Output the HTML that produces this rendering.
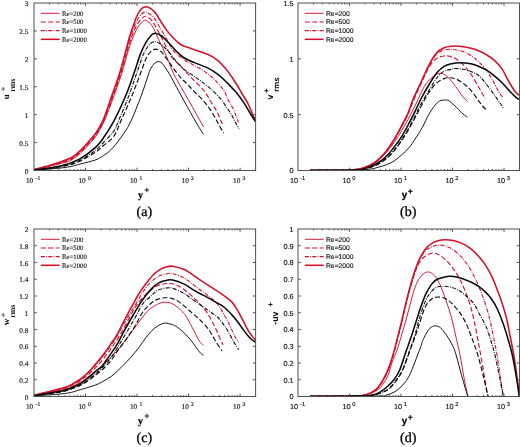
<!DOCTYPE html>
<html><head><meta charset="utf-8"><title>figure</title>
<style>html,body{margin:0;padding:0;background:#fff}svg{display:block}</style></head>
<body>
<svg width="520" height="447" viewBox="0 0 520 447" text-rendering="geometricPrecision">
<rect width="520" height="447" fill="#fff"/>
<g>
<clipPath id="cla"><rect x="34.0" y="2.0" width="222.4" height="169.0"/></clipPath>
<g clip-path="url(#cla)" fill="none" stroke-linejoin="round">
<path d="M34.00 169.80C36.57 169.20 44.25 167.42 49.40 166.20C54.55 164.98 61.03 163.65 64.90 162.50C68.77 161.35 70.03 160.83 72.60 159.30C75.17 157.77 77.73 155.62 80.30 153.30C82.87 150.98 85.42 148.23 88.00 145.40C90.58 142.57 93.33 139.85 95.80 136.30C98.27 132.75 100.70 128.38 102.80 124.10C104.90 119.82 106.57 115.23 108.40 110.60C110.23 105.97 111.57 102.53 113.80 96.30C116.03 90.07 119.47 80.58 121.80 73.20C124.13 65.82 126.13 57.48 127.80 52.00C129.47 46.52 130.47 43.80 131.80 40.30C133.13 36.80 134.65 33.38 135.80 31.00C136.95 28.62 137.63 27.50 138.70 26.00C139.77 24.50 141.02 22.95 142.20 22.00C143.38 21.05 144.23 19.80 145.80 20.30C147.37 20.80 150.05 23.15 151.60 25.00C153.15 26.85 153.93 28.98 155.10 31.40C156.27 33.82 157.45 36.98 158.60 39.50C159.75 42.02 160.67 43.65 162.00 46.50C163.33 49.35 164.87 52.58 166.60 56.60C168.33 60.62 171.13 67.53 172.40 70.60C173.67 73.67 172.72 72.18 174.20 75.00C175.68 77.82 178.92 83.33 181.30 87.50C183.68 91.67 186.05 95.67 188.50 100.00C190.95 104.33 193.50 109.00 196.00 113.50C198.50 118.00 202.25 124.75 203.50 127.00" stroke="#d31029" stroke-width="0.95"/>
<path d="M34.00 169.70C36.57 169.08 44.25 167.32 49.40 166.00C54.55 164.68 61.03 163.05 64.90 161.80C68.77 160.55 70.03 160.07 72.60 158.50C75.17 156.93 77.73 154.75 80.30 152.40C82.87 150.05 85.42 147.27 88.00 144.40C90.58 141.53 93.33 138.77 95.80 135.20C98.27 131.63 100.78 127.13 102.80 123.00C104.82 118.87 106.20 114.85 107.90 110.40C109.60 105.95 110.82 102.50 113.00 96.30C115.18 90.10 118.67 80.67 121.00 73.20C123.33 65.73 125.33 57.23 127.00 51.50C128.67 45.77 129.67 42.63 131.00 38.80C132.33 34.97 133.83 31.13 135.00 28.50C136.17 25.87 136.83 24.72 138.00 23.00C139.17 21.28 140.70 19.32 142.00 18.20C143.30 17.08 144.12 15.85 145.80 16.30C147.48 16.75 150.08 18.48 152.10 20.90C154.12 23.32 155.95 27.30 157.90 30.80C159.85 34.30 162.05 38.50 163.80 41.90C165.55 45.30 166.95 48.52 168.40 51.20C169.85 53.88 171.07 56.10 172.50 58.00C173.93 59.90 175.27 60.83 177.00 62.60C178.73 64.37 180.17 65.72 182.90 68.60C185.63 71.48 189.97 76.33 193.40 79.90C196.83 83.47 200.68 86.52 203.50 90.00C206.32 93.48 208.07 97.22 210.30 100.80C212.53 104.38 215.12 108.13 216.90 111.50C218.68 114.87 219.98 118.63 221.00 121.00C222.02 123.37 222.67 124.92 223.00 125.70" stroke="#d31029" stroke-width="1.15" stroke-dasharray="5 2.4"/>
<path d="M34.00 169.60C36.57 168.97 44.25 167.23 49.40 165.80C54.55 164.37 61.03 162.35 64.90 161.00C68.77 159.65 70.03 159.28 72.60 157.70C75.17 156.12 77.73 153.88 80.30 151.50C82.87 149.12 85.42 146.28 88.00 143.40C90.58 140.52 93.33 137.78 95.80 134.20C98.27 130.62 100.87 125.90 102.80 121.90C104.73 117.90 105.82 114.47 107.40 110.20C108.98 105.93 110.15 102.47 112.30 96.30C114.45 90.13 117.97 80.67 120.30 73.20C122.63 65.73 124.63 57.45 126.30 51.50C127.97 45.55 128.97 41.67 130.30 37.50C131.63 33.33 133.12 29.45 134.30 26.50C135.48 23.55 136.20 21.85 137.40 19.80C138.60 17.75 140.10 15.47 141.50 14.20C142.90 12.93 143.95 11.85 145.80 12.20C147.65 12.55 150.50 14.17 152.60 16.30C154.70 18.43 156.45 21.90 158.40 25.00C160.35 28.10 162.55 31.90 164.30 34.90C166.05 37.90 167.62 40.65 168.90 43.00C170.18 45.35 170.48 47.00 172.00 49.00C173.52 51.00 175.83 53.12 178.00 55.00C180.17 56.88 183.00 58.93 185.00 60.30C187.00 61.67 188.22 62.22 190.00 63.20C191.78 64.18 193.40 64.90 195.70 66.20C198.00 67.50 201.28 69.32 203.80 71.00C206.32 72.68 208.93 74.80 210.80 76.30C212.67 77.80 212.87 77.72 215.00 80.00C217.13 82.28 221.43 86.77 223.60 90.00C225.77 93.23 226.42 96.27 228.00 99.40C229.58 102.53 231.70 105.88 233.10 108.80C234.50 111.72 235.50 114.65 236.40 116.90C237.30 119.15 238.15 121.40 238.50 122.30" stroke="#d31029" stroke-width="1.10" stroke-dasharray="4 1.3 0.9 1.3"/>
<path d="M34.00 169.50C36.57 168.85 44.25 167.15 49.40 165.60C54.55 164.05 61.03 161.67 64.90 160.20C68.77 158.73 70.03 158.40 72.60 156.80C75.17 155.20 77.73 153.00 80.30 150.60C82.87 148.20 85.42 145.30 88.00 142.40C90.58 139.50 93.33 136.80 95.80 133.20C98.27 129.60 100.95 124.67 102.80 120.80C104.65 116.93 105.43 114.08 106.90 110.00C108.37 105.92 109.48 102.43 111.60 96.30C113.72 90.17 117.27 80.67 119.60 73.20C121.93 65.73 123.93 57.62 125.60 51.50C127.27 45.38 128.27 40.92 129.60 36.50C130.93 32.08 132.47 28.25 133.60 25.00C134.73 21.75 135.17 19.62 136.40 17.00C137.63 14.38 139.42 11.00 141.00 9.30C142.58 7.60 144.32 6.95 145.90 6.80C147.48 6.65 149.07 7.55 150.50 8.40C151.93 9.25 153.35 10.67 154.50 11.90C155.65 13.13 156.35 14.20 157.40 15.80C158.45 17.40 159.27 19.12 160.80 21.50C162.33 23.88 164.67 27.50 166.60 30.10C168.53 32.70 170.77 35.28 172.40 37.10C174.03 38.92 174.80 39.63 176.40 41.00C178.00 42.37 179.75 44.12 182.00 45.30C184.25 46.48 187.57 47.28 189.90 48.10C192.23 48.92 193.05 49.17 196.00 50.20C198.95 51.23 204.12 52.70 207.60 54.30C211.08 55.90 213.98 57.53 216.90 59.80C219.82 62.07 222.58 65.00 225.10 67.90C227.62 70.80 229.87 74.10 232.00 77.20C234.13 80.30 236.43 84.08 237.90 86.50C239.37 88.92 239.13 88.87 240.80 91.70C242.47 94.53 245.93 99.75 247.90 103.50C249.87 107.25 251.33 111.40 252.60 114.20C253.87 117.00 255.02 119.28 255.50 120.30" stroke="#d31029" stroke-width="1.55"/>
<path d="M34.00 170.30C39.15 169.83 57.18 168.55 64.90 167.50C72.62 166.45 75.15 165.28 80.30 164.00C85.45 162.72 91.93 161.22 95.80 159.80C99.67 158.38 100.98 157.17 103.50 155.50C106.02 153.83 108.07 152.70 110.90 149.80C113.73 146.90 117.28 142.62 120.50 138.10C123.72 133.58 126.78 129.67 130.20 122.70C133.62 115.73 138.15 103.75 141.00 96.30C143.85 88.85 145.80 82.38 147.30 78.00C148.80 73.62 148.92 72.30 150.00 70.00C151.08 67.70 152.43 65.60 153.80 64.20C155.17 62.80 156.83 61.77 158.20 61.60C159.57 61.43 160.97 62.42 162.00 63.20C163.03 63.98 163.60 65.17 164.40 66.30C165.20 67.43 165.87 68.55 166.80 70.00C167.73 71.45 168.35 72.08 170.00 75.00C171.65 77.92 174.45 83.33 176.70 87.50C178.95 91.67 181.20 95.83 183.50 100.00C185.80 104.17 188.25 108.50 190.50 112.50C192.75 116.50 194.83 120.35 197.00 124.00C199.17 127.65 202.42 132.67 203.50 134.40" stroke="#0a0a0a" stroke-width="0.95"/>
<path d="M34.00 170.20C39.15 169.50 57.18 167.53 64.90 166.00C72.62 164.47 75.15 163.33 80.30 161.00C85.45 158.67 91.93 154.58 95.80 152.00C99.67 149.42 100.47 148.17 103.50 145.50C106.53 142.83 110.97 140.42 114.00 136.00C117.03 131.58 118.75 125.62 121.70 119.00C124.65 112.38 128.37 104.47 131.70 96.30C135.03 88.13 139.25 76.43 141.70 70.00C144.15 63.57 144.83 60.80 146.40 57.70C147.97 54.60 149.53 52.83 151.10 51.40C152.67 49.97 154.10 49.03 155.80 49.10C157.50 49.17 159.88 50.73 161.30 51.80C162.72 52.87 162.83 53.53 164.30 55.50C165.77 57.47 168.17 60.90 170.10 63.60C172.03 66.30 173.97 69.18 175.90 71.70C177.83 74.22 179.75 76.57 181.70 78.70C183.65 80.83 185.55 82.40 187.60 84.50C189.65 86.60 191.35 88.58 194.00 91.30C196.65 94.02 200.58 97.43 203.50 100.80C206.42 104.17 209.03 107.70 211.50 111.50C213.97 115.30 216.28 120.00 218.30 123.60C220.32 127.20 222.72 131.52 223.60 133.10" stroke="#0a0a0a" stroke-width="1.15" stroke-dasharray="5 2.4"/>
<path d="M34.00 170.10C39.15 169.33 57.18 167.18 64.90 165.50C72.62 163.82 75.15 162.58 80.30 160.00C85.45 157.42 91.93 152.92 95.80 150.00C99.67 147.08 100.47 145.72 103.50 142.50C106.53 139.28 111.37 134.62 114.00 130.70C116.63 126.78 116.87 124.73 119.30 119.00C121.73 113.27 125.52 104.47 128.60 96.30C131.68 88.13 135.35 76.95 137.80 70.00C140.25 63.05 141.60 58.57 143.30 54.60C145.00 50.63 146.55 48.20 148.00 46.20C149.45 44.20 150.70 43.35 152.00 42.60C153.30 41.85 154.32 41.43 155.80 41.70C157.28 41.97 159.37 43.15 160.90 44.20C162.43 45.25 163.73 46.78 165.00 48.00C166.27 49.22 167.27 50.07 168.50 51.50C169.73 52.93 170.77 54.58 172.40 56.60C174.03 58.62 176.35 61.47 178.30 63.60C180.25 65.73 182.00 67.65 184.10 69.40C186.20 71.15 188.80 72.65 190.90 74.10C193.00 75.55 194.93 76.85 196.70 78.10C198.47 79.35 199.73 80.28 201.50 81.60C203.27 82.92 205.13 84.22 207.30 86.00C209.47 87.78 212.13 89.97 214.50 92.30C216.87 94.63 219.33 97.30 221.50 100.00C223.67 102.70 225.80 106.00 227.50 108.50C229.20 111.00 230.37 112.67 231.70 115.00C233.03 117.33 234.27 120.17 235.50 122.50C236.73 124.83 238.50 127.92 239.10 129.00" stroke="#0a0a0a" stroke-width="1.10" stroke-dasharray="4 1.3 0.9 1.3"/>
<path d="M34.00 170.00C36.57 169.67 44.25 168.87 49.40 168.00C54.55 167.13 59.75 166.37 64.90 164.80C70.05 163.23 75.15 161.55 80.30 158.60C85.45 155.65 91.93 150.57 95.80 147.10C99.67 143.63 100.47 142.18 103.50 137.80C106.53 133.42 110.33 127.72 114.00 120.80C117.67 113.88 121.98 104.77 125.50 96.30C129.02 87.83 132.65 76.95 135.10 70.00C137.55 63.05 138.43 59.13 140.20 54.60C141.97 50.07 143.82 46.07 145.70 42.80C147.58 39.53 149.90 36.60 151.50 35.00C153.10 33.40 153.60 33.03 155.30 33.20C157.00 33.37 159.78 34.70 161.70 36.00C163.62 37.30 165.27 39.47 166.80 41.00C168.33 42.53 169.25 43.45 170.90 45.20C172.55 46.95 174.70 49.53 176.70 51.50C178.70 53.47 180.70 55.47 182.90 57.00C185.10 58.53 187.57 59.60 189.90 60.70C192.23 61.80 193.95 62.40 196.90 63.60C199.85 64.80 204.27 66.22 207.60 67.90C210.93 69.58 213.98 71.57 216.90 73.70C219.82 75.83 222.58 78.33 225.10 80.70C227.62 83.07 230.17 85.97 232.00 87.90C233.83 89.83 234.13 89.85 236.10 92.30C238.07 94.75 241.38 98.98 243.80 102.60C246.22 106.22 248.65 110.83 250.60 114.00C252.55 117.17 254.68 120.33 255.50 121.60" stroke="#0a0a0a" stroke-width="1.55"/>
</g>
<g stroke="#505050" stroke-width="1" fill="none">
<rect x="34.0" y="3.0" width="221.6" height="167.5"/>
<path d="M49.51 170.50v-1.40M49.51 3.00v1.40M58.58 170.50v-1.40M58.58 3.00v1.40M65.02 170.50v-1.40M65.02 3.00v1.40M70.01 170.50v-1.40M70.01 3.00v1.40M74.09 170.50v-1.40M74.09 3.00v1.40M77.54 170.50v-1.40M77.54 3.00v1.40M80.53 170.50v-1.40M80.53 3.00v1.40M83.17 170.50v-1.40M83.17 3.00v1.40M85.52 170.50v-2.80M85.52 3.00v2.80M101.03 170.50v-1.40M101.03 3.00v1.40M110.11 170.50v-1.40M110.11 3.00v1.40M116.54 170.50v-1.40M116.54 3.00v1.40M121.54 170.50v-1.40M121.54 3.00v1.40M125.61 170.50v-1.40M125.61 3.00v1.40M129.06 170.50v-1.40M129.06 3.00v1.40M132.05 170.50v-1.40M132.05 3.00v1.40M134.69 170.50v-1.40M134.69 3.00v1.40M137.05 170.50v-2.80M137.05 3.00v2.80M152.55 170.50v-1.40M152.55 3.00v1.40M161.63 170.50v-1.40M161.63 3.00v1.40M168.06 170.50v-1.40M168.06 3.00v1.40M173.06 170.50v-1.40M173.06 3.00v1.40M177.14 170.50v-1.40M177.14 3.00v1.40M180.59 170.50v-1.40M180.59 3.00v1.40M183.57 170.50v-1.40M183.57 3.00v1.40M186.21 170.50v-1.40M186.21 3.00v1.40M188.57 170.50v-2.80M188.57 3.00v2.80M204.08 170.50v-1.40M204.08 3.00v1.40M213.15 170.50v-1.40M213.15 3.00v1.40M219.59 170.50v-1.40M219.59 3.00v1.40M224.58 170.50v-1.40M224.58 3.00v1.40M228.66 170.50v-1.40M228.66 3.00v1.40M232.11 170.50v-1.40M232.11 3.00v1.40M235.10 170.50v-1.40M235.10 3.00v1.40M237.73 170.50v-1.40M237.73 3.00v1.40M240.09 170.50v-2.80M240.09 3.00v2.80M255.60 170.50v-1.40M255.60 3.00v1.40M34.00 142.58h2.8M255.60 142.58h-2.8M34.00 114.67h2.8M255.60 114.67h-2.8M34.00 86.75h2.8M255.60 86.75h-2.8M34.00 58.83h2.8M255.60 58.83h-2.8M34.00 30.92h2.8M255.60 30.92h-2.8"/>
</g>
<g font-family='"Liberation Serif", serif' font-size="7.3" fill="#111" stroke="#111" stroke-width="0.15">
<text x="28.4" y="173.5" text-anchor="end">0</text>
<text x="28.4" y="145.6" text-anchor="end">0.5</text>
<text x="28.4" y="117.7" text-anchor="end">1</text>
<text x="28.4" y="89.8" text-anchor="end">1.5</text>
<text x="28.4" y="61.8" text-anchor="end">2</text>
<text x="28.4" y="33.9" text-anchor="end">2.5</text>
<text x="28.4" y="6.0" text-anchor="end">3</text>
<text x="33.2" y="183.3" text-anchor="end">10</text>
<text x="35.6" y="180.0" font-size="5.7">-1</text>
<text x="85.7" y="183.3" text-anchor="end">10</text>
<text x="88.0" y="180.0" font-size="5.7">0</text>
<text x="137.2" y="183.3" text-anchor="end">10</text>
<text x="139.5" y="180.0" font-size="5.7">1</text>
<text x="188.8" y="183.3" text-anchor="end">10</text>
<text x="191.1" y="180.0" font-size="5.7">2</text>
<text x="240.3" y="183.3" text-anchor="end">10</text>
<text x="242.6" y="180.0" font-size="5.7">3</text>
</g>
<text x="138.0" y="197.7" font-family='"Liberation Serif", serif' font-size="10" font-weight="bold" fill="#000" stroke="#000" stroke-width="0.2">y</text>
<text x="144.2" y="193.1" font-family='"Liberation Serif", serif' font-size="9" font-weight="bold" fill="#000" stroke="#000" stroke-width="0.2">+</text>
<text x="144.3" y="215.7" font-family='"Liberation Serif", serif' font-size="14" fill="#000" stroke="#000" stroke-width="0.3" text-anchor="middle">(a)</text>
<g transform="translate(9.4 86.8) rotate(-90)" font-family='"Liberation Serif", serif' font-weight="bold" fill="#000">
<text x="-12.4" y="0" font-size="9.0">u</text>
<text x="-4.9" y="5.6" font-size="7.8">rms</text>
<text x="-4.6" y="-3.9" font-size="8.6">+</text>
</g>
<path d="M40.8 13.3H59.6" stroke="#d31029" stroke-width="0.95" fill="none"/>
<text x="62.0" y="15.6" font-family='"Liberation Serif", serif' font-size="6.75" fill="#111" stroke="#111" stroke-width="0.12">Re=200</text>
<path d="M40.8 22.0H59.6" stroke="#d31029" stroke-width="1.15" stroke-dasharray="5 2.4" fill="none"/>
<text x="62.0" y="24.3" font-family='"Liberation Serif", serif' font-size="6.75" fill="#111" stroke="#111" stroke-width="0.12">Re=500</text>
<path d="M40.8 30.6H59.6" stroke="#d31029" stroke-width="1.10" stroke-dasharray="4 1.3 0.9 1.3" fill="none"/>
<text x="62.0" y="32.9" font-family='"Liberation Serif", serif' font-size="6.75" fill="#111" stroke="#111" stroke-width="0.12">Re=1000</text>
<path d="M40.8 39.3H59.6" stroke="#d31029" stroke-width="1.55" fill="none"/>
<text x="62.0" y="41.6" font-family='"Liberation Serif", serif' font-size="6.75" fill="#111" stroke="#111" stroke-width="0.12">Re=2000</text>
</g>
<g>
<clipPath id="clb"><rect x="298.0" y="2.0" width="222.3" height="169.0"/></clipPath>
<g clip-path="url(#clb)" fill="none" stroke-linejoin="round">
<path d="M310.00 170.40C315.00 170.38 332.43 170.38 340.00 170.25C347.57 170.12 351.53 169.96 355.40 169.60C359.27 169.24 360.62 168.83 363.20 168.10C365.78 167.37 368.33 166.55 370.90 165.20C373.47 163.85 376.03 162.12 378.60 160.00C381.17 157.88 383.72 155.42 386.30 152.50C388.88 149.58 391.52 146.17 394.10 142.50C396.68 138.83 399.48 134.33 401.80 130.50C404.12 126.67 405.80 123.58 408.00 119.50C410.20 115.42 413.00 110.08 415.00 106.00C417.00 101.92 418.18 98.68 420.00 95.00C421.82 91.32 423.63 87.03 425.90 83.90C428.17 80.77 431.28 77.95 433.60 76.20C435.92 74.45 437.73 73.53 439.80 73.40C441.87 73.27 443.68 73.65 446.00 75.40C448.32 77.15 451.13 80.68 453.70 83.90C456.27 87.12 459.10 91.73 461.40 94.70C463.70 97.67 466.48 100.53 467.50 101.70" stroke="#d31029" stroke-width="0.95"/>
<path d="M310.00 170.40C315.00 170.37 332.43 170.35 340.00 170.20C347.57 170.05 351.53 169.87 355.40 169.50C359.27 169.13 360.62 168.73 363.20 168.00C365.78 167.27 368.33 166.45 370.90 165.10C373.47 163.75 376.03 162.15 378.60 159.90C381.17 157.65 383.72 154.88 386.30 151.60C388.88 148.32 391.52 144.38 394.10 140.20C396.68 136.02 399.48 130.78 401.80 126.50C404.12 122.22 406.10 118.75 408.00 114.50C409.90 110.25 411.05 106.08 413.20 101.00C415.35 95.92 418.33 89.50 420.90 84.00C423.47 78.50 426.03 72.23 428.60 68.00C431.17 63.77 433.73 60.60 436.30 58.60C438.87 56.60 442.10 56.45 444.00 56.00C445.90 55.55 446.40 55.73 447.70 55.90C449.00 56.07 450.52 56.55 451.80 57.00C453.08 57.45 453.50 57.32 455.40 58.60C457.30 59.88 460.62 62.13 463.20 64.70C465.78 67.27 468.33 70.28 470.90 74.00C473.47 77.72 476.67 83.67 478.60 87.00C480.53 90.33 481.30 92.07 482.50 94.00C483.70 95.93 485.25 97.83 485.80 98.60" stroke="#d31029" stroke-width="1.15" stroke-dasharray="5 2.4"/>
<path d="M310.00 170.40C315.00 170.37 332.43 170.35 340.00 170.20C347.57 170.05 351.53 169.87 355.40 169.50C359.27 169.13 360.62 168.75 363.20 168.00C365.78 167.25 368.33 166.38 370.90 165.00C373.47 163.62 376.03 161.98 378.60 159.70C381.17 157.42 383.72 154.62 386.30 151.30C388.88 147.98 391.52 144.02 394.10 139.80C396.68 135.58 399.48 130.33 401.80 126.00C404.12 121.67 406.10 118.13 408.00 113.80C409.90 109.47 411.05 105.10 413.20 100.00C415.35 94.90 418.33 88.78 420.90 83.20C423.47 77.62 426.03 71.25 428.60 66.50C431.17 61.75 433.73 57.45 436.30 54.70C438.87 51.95 441.42 50.90 444.00 50.00C446.58 49.10 449.90 49.33 451.80 49.30C453.70 49.27 453.50 49.42 455.40 49.80C457.30 50.18 460.62 50.65 463.20 51.60C465.78 52.55 468.33 53.82 470.90 55.50C473.47 57.18 476.03 59.25 478.60 61.70C481.17 64.15 483.98 67.15 486.30 70.20C488.62 73.25 490.43 76.43 492.50 80.00C494.57 83.57 496.98 88.68 498.70 91.60C500.42 94.52 502.12 96.52 502.80 97.50" stroke="#d31029" stroke-width="1.10" stroke-dasharray="4 1.3 0.9 1.3"/>
<path d="M310.00 170.40C315.00 170.37 332.43 170.35 340.00 170.20C347.57 170.05 351.53 169.88 355.40 169.50C359.27 169.12 360.62 168.68 363.20 167.90C365.78 167.12 368.33 166.22 370.90 164.80C373.47 163.38 376.03 161.72 378.60 159.40C381.17 157.08 383.72 154.25 386.30 150.90C388.88 147.55 391.52 143.55 394.10 139.30C396.68 135.05 399.48 129.77 401.80 125.40C404.12 121.03 406.10 117.50 408.00 113.10C409.90 108.70 411.05 104.10 413.20 99.00C415.35 93.90 418.33 88.08 420.90 82.50C423.47 76.92 426.03 70.38 428.60 65.50C431.17 60.62 433.72 56.15 436.30 53.20C438.88 50.25 441.52 48.97 444.10 47.80C446.68 46.63 449.23 46.47 451.80 46.20C454.37 45.93 456.32 45.87 459.50 46.20C462.68 46.53 467.72 47.43 470.90 48.20C474.08 48.97 476.03 49.72 478.60 50.80C481.17 51.88 483.72 53.15 486.30 54.70C488.88 56.25 491.52 57.78 494.10 60.10C496.68 62.42 499.40 65.12 501.80 68.60C504.20 72.08 506.35 77.27 508.50 81.00C510.65 84.73 512.95 88.63 514.70 91.00C516.45 93.37 518.28 94.50 519.00 95.20" stroke="#d31029" stroke-width="1.55"/>
<path d="M310.00 170.45C317.57 170.42 345.25 170.54 355.40 170.30C365.55 170.06 367.03 169.53 370.90 169.00C374.77 168.47 376.03 167.80 378.60 167.10C381.17 166.40 383.72 165.82 386.30 164.80C388.88 163.78 391.52 162.67 394.10 161.00C396.68 159.33 399.23 157.12 401.80 154.80C404.37 152.48 407.28 149.73 409.50 147.10C411.72 144.47 412.93 142.33 415.10 139.00C417.27 135.67 420.25 131.13 422.50 127.10C424.75 123.07 426.55 118.40 428.60 114.80C430.65 111.20 432.93 107.82 434.80 105.50C436.67 103.18 438.20 101.80 439.80 100.90C441.40 100.00 442.85 100.10 444.40 100.10C445.95 100.10 447.03 99.62 449.10 100.90C451.17 102.18 454.48 105.62 456.80 107.80C459.12 109.98 461.22 112.45 463.00 114.00C464.78 115.55 466.75 116.58 467.50 117.10" stroke="#0a0a0a" stroke-width="0.95"/>
<path d="M310.00 170.40C317.57 170.35 346.53 170.27 355.40 170.10C364.27 169.93 360.62 169.88 363.20 169.40C365.78 168.92 368.33 168.10 370.90 167.20C373.47 166.30 376.03 165.40 378.60 164.00C381.17 162.60 383.72 160.97 386.30 158.80C388.88 156.63 391.52 154.05 394.10 151.00C396.68 147.95 399.23 144.33 401.80 140.50C404.37 136.67 407.18 132.00 409.50 128.00C411.82 124.00 413.78 120.08 415.70 116.50C417.62 112.92 418.85 110.42 421.00 106.50C423.15 102.58 426.05 96.88 428.60 93.00C431.15 89.12 433.72 85.60 436.30 83.20C438.88 80.80 441.98 79.52 444.10 78.60C446.22 77.68 447.12 77.68 449.00 77.70C450.88 77.72 453.03 77.77 455.40 78.70C457.77 79.63 460.62 81.37 463.20 83.30C465.78 85.23 468.33 87.37 470.90 90.30C473.47 93.23 476.58 98.20 478.60 100.90C480.62 103.60 481.77 105.08 483.00 106.50C484.23 107.92 485.50 108.92 486.00 109.40" stroke="#0a0a0a" stroke-width="1.15" stroke-dasharray="5 2.4"/>
<path d="M310.00 170.40C317.57 170.35 346.53 170.28 355.40 170.10C364.27 169.92 360.62 169.82 363.20 169.30C365.78 168.78 368.33 167.97 370.90 167.00C373.47 166.03 376.03 165.00 378.60 163.50C381.17 162.00 383.72 160.25 386.30 158.00C388.88 155.75 391.52 153.08 394.10 150.00C396.68 146.92 399.23 143.42 401.80 139.50C404.37 135.58 407.18 130.67 409.50 126.50C411.82 122.33 413.78 118.25 415.70 114.50C417.62 110.75 418.65 108.25 421.00 104.00C423.35 99.75 427.05 93.50 429.80 89.00C432.55 84.50 435.12 79.97 437.50 77.00C439.88 74.03 441.72 72.48 444.10 71.20C446.48 69.92 449.92 69.75 451.80 69.30C453.68 68.85 453.50 68.50 455.40 68.50C457.30 68.50 460.62 68.82 463.20 69.30C465.78 69.78 468.33 70.37 470.90 71.40C473.47 72.43 476.17 73.57 478.60 75.50C481.03 77.43 483.05 80.00 485.50 83.00C487.95 86.00 490.85 90.13 493.30 93.50C495.75 96.87 498.53 100.82 500.20 103.20C501.87 105.58 502.78 107.03 503.30 107.80" stroke="#0a0a0a" stroke-width="1.10" stroke-dasharray="4 1.3 0.9 1.3"/>
<path d="M310.00 170.40C317.57 170.33 346.53 170.23 355.40 170.00C364.27 169.77 360.62 169.60 363.20 169.00C365.78 168.40 368.33 167.48 370.90 166.40C373.47 165.32 376.03 164.18 378.60 162.50C381.17 160.82 383.72 158.87 386.30 156.30C388.88 153.73 391.52 150.43 394.10 147.10C396.68 143.77 399.23 140.42 401.80 136.30C404.37 132.18 407.18 126.78 409.50 122.40C411.82 118.02 413.80 113.90 415.70 110.00C417.60 106.10 418.62 103.33 420.90 99.00C423.18 94.67 426.70 88.42 429.40 84.00C432.10 79.58 434.65 75.45 437.10 72.50C439.55 69.55 441.65 67.77 444.10 66.30C446.55 64.83 449.23 64.30 451.80 63.70C454.37 63.10 456.32 62.70 459.50 62.70C462.68 62.70 467.72 63.10 470.90 63.70C474.08 64.30 476.03 65.28 478.60 66.30C481.17 67.32 483.72 68.25 486.30 69.80C488.88 71.35 491.52 73.48 494.10 75.60C496.68 77.72 499.23 79.93 501.80 82.50C504.37 85.07 507.18 88.57 509.50 91.00C511.82 93.43 514.12 95.72 515.70 97.10C517.28 98.48 518.45 98.93 519.00 99.30" stroke="#0a0a0a" stroke-width="1.55"/>
</g>
<g stroke="#505050" stroke-width="1" fill="none">
<rect x="298.0" y="3.0" width="221.5" height="167.5"/>
<path d="M313.50 170.50v-1.40M313.50 3.00v1.40M322.57 170.50v-1.40M322.57 3.00v1.40M329.01 170.50v-1.40M329.01 3.00v1.40M334.00 170.50v-1.40M334.00 3.00v1.40M338.07 170.50v-1.40M338.07 3.00v1.40M341.52 170.50v-1.40M341.52 3.00v1.40M344.51 170.50v-1.40M344.51 3.00v1.40M347.14 170.50v-1.40M347.14 3.00v1.40M349.50 170.50v-2.80M349.50 3.00v2.80M365.00 170.50v-1.40M365.00 3.00v1.40M374.07 170.50v-1.40M374.07 3.00v1.40M380.50 170.50v-1.40M380.50 3.00v1.40M385.50 170.50v-1.40M385.50 3.00v1.40M389.57 170.50v-1.40M389.57 3.00v1.40M393.02 170.50v-1.40M393.02 3.00v1.40M396.01 170.50v-1.40M396.01 3.00v1.40M398.64 170.50v-1.40M398.64 3.00v1.40M401.00 170.50v-2.80M401.00 3.00v2.80M416.50 170.50v-1.40M416.50 3.00v1.40M425.57 170.50v-1.40M425.57 3.00v1.40M432.00 170.50v-1.40M432.00 3.00v1.40M437.00 170.50v-1.40M437.00 3.00v1.40M441.07 170.50v-1.40M441.07 3.00v1.40M444.52 170.50v-1.40M444.52 3.00v1.40M447.51 170.50v-1.40M447.51 3.00v1.40M450.14 170.50v-1.40M450.14 3.00v1.40M452.50 170.50v-2.80M452.50 3.00v2.80M468.00 170.50v-1.40M468.00 3.00v1.40M477.07 170.50v-1.40M477.07 3.00v1.40M483.50 170.50v-1.40M483.50 3.00v1.40M488.49 170.50v-1.40M488.49 3.00v1.40M492.57 170.50v-1.40M492.57 3.00v1.40M496.02 170.50v-1.40M496.02 3.00v1.40M499.01 170.50v-1.40M499.01 3.00v1.40M501.64 170.50v-1.40M501.64 3.00v1.40M504.00 170.50v-2.80M504.00 3.00v2.80M519.50 170.50v-1.40M519.50 3.00v1.40M298.00 114.67h2.8M519.50 114.67h-2.8M298.00 58.83h2.8M519.50 58.83h-2.8"/>
</g>
<g font-family='"Liberation Sans", sans-serif' font-size="7.3" fill="#111" stroke="#111" stroke-width="0.15">
<text x="293.6" y="173.3" text-anchor="end">0</text>
<text x="293.6" y="117.5" text-anchor="end">0.5</text>
<text x="293.6" y="61.6" text-anchor="end">1</text>
<text x="293.6" y="5.8" text-anchor="end">1.5</text>
<text x="298.2" y="183.3" text-anchor="end">10</text>
<text x="300.1" y="179.6" font-size="5.7">-1</text>
<text x="350.5" y="183.3" text-anchor="end">10</text>
<text x="352.3" y="179.6" font-size="5.7">0</text>
<text x="402.0" y="183.3" text-anchor="end">10</text>
<text x="403.8" y="179.6" font-size="5.7">1</text>
<text x="453.5" y="183.3" text-anchor="end">10</text>
<text x="455.3" y="179.6" font-size="5.7">2</text>
<text x="505.0" y="183.3" text-anchor="end">10</text>
<text x="506.8" y="179.6" font-size="5.7">3</text>
</g>
<text x="401.8" y="197.7" font-family='"Liberation Sans", sans-serif' font-size="9.8" font-weight="bold" fill="#000" stroke="#000" stroke-width="0.25">y</text>
<text x="408.0" y="193.6" font-family='"Liberation Sans", sans-serif' font-size="8" font-weight="bold" fill="#000" stroke="#000" stroke-width="0.25">+</text>
<text x="408.2" y="215.7" font-family='"Liberation Serif", serif' font-size="14" fill="#000" stroke="#000" stroke-width="0.3" text-anchor="middle">(b)</text>
<g transform="translate(273.4 86.8) rotate(-90)" font-family='"Liberation Sans", sans-serif' font-weight="bold" fill="#000">
<text x="-12.8" y="0" font-size="8.8">v</text>
<text x="-4.9" y="5.6" font-size="7.8">rms</text>
<text x="-6.2" y="-4.3" font-size="7.8">+</text>
</g>
<path d="M304.8 13.3H323.6" stroke="#d31029" stroke-width="0.95" fill="none"/>
<text x="326.0" y="15.6" font-family='"Liberation Sans", sans-serif' font-size="6.75" fill="#111" stroke="#111" stroke-width="0.12">Re=200</text>
<path d="M304.8 22.0H323.6" stroke="#d31029" stroke-width="1.15" stroke-dasharray="5 2.4" fill="none"/>
<text x="326.0" y="24.3" font-family='"Liberation Sans", sans-serif' font-size="6.75" fill="#111" stroke="#111" stroke-width="0.12">Re=500</text>
<path d="M304.8 30.6H323.6" stroke="#d31029" stroke-width="1.10" stroke-dasharray="4 1.3 0.9 1.3" fill="none"/>
<text x="326.0" y="32.9" font-family='"Liberation Sans", sans-serif' font-size="6.75" fill="#111" stroke="#111" stroke-width="0.12">Re=1000</text>
<path d="M304.8 39.3H323.6" stroke="#d31029" stroke-width="1.55" fill="none"/>
<text x="326.0" y="41.6" font-family='"Liberation Sans", sans-serif' font-size="6.75" fill="#111" stroke="#111" stroke-width="0.12">Re=2000</text>
</g>
<g>
<clipPath id="clc"><rect x="34.0" y="228.0" width="222.4" height="169.0"/></clipPath>
<g clip-path="url(#clc)" fill="none" stroke-linejoin="round">
<path d="M34.00 395.50C36.59 394.97 44.29 393.35 49.51 392.30C54.73 391.25 59.99 390.97 65.34 389.20C70.69 387.43 76.19 385.07 81.62 381.70C87.05 378.33 93.81 372.32 97.91 369.00C102.01 365.68 103.08 364.80 106.24 361.80C109.40 358.80 113.68 354.60 116.87 351.00C120.06 347.40 122.51 343.93 125.39 340.20C128.27 336.47 131.37 332.33 134.14 328.60C136.91 324.87 139.47 321.02 142.02 317.80C144.57 314.58 146.84 311.55 149.42 309.30C152.00 307.05 155.40 305.42 157.50 304.30C159.60 303.18 160.65 302.95 162.00 302.60C163.35 302.25 164.18 302.13 165.60 302.20C167.02 302.27 168.68 302.28 170.50 303.00C172.32 303.72 174.08 304.55 176.50 306.50C178.92 308.45 182.35 311.15 185.00 314.70C187.65 318.25 190.03 323.43 192.40 327.80C194.77 332.17 197.35 337.98 199.20 340.90C201.05 343.82 202.78 344.57 203.50 345.30" stroke="#d31029" stroke-width="0.95"/>
<path d="M34.00 395.40C36.59 394.83 44.28 393.20 49.52 392.00C54.76 390.80 60.07 390.25 65.46 388.20C70.85 386.15 76.48 383.48 81.85 379.70C87.22 375.92 92.56 371.03 97.68 365.50C102.80 359.97 108.18 352.75 112.57 346.50C116.96 340.25 120.41 334.25 124.00 328.00C127.59 321.75 130.92 314.17 134.12 309.00C137.32 303.83 140.47 300.12 143.20 297.00C145.93 293.88 148.03 292.20 150.50 290.30C152.97 288.40 155.58 286.70 158.00 285.60C160.42 284.50 162.92 284.05 165.00 283.70C167.08 283.35 168.58 283.28 170.50 283.50C172.42 283.72 174.30 284.03 176.50 285.00C178.70 285.97 181.22 287.55 183.70 289.30C186.18 291.05 188.82 293.18 191.40 295.50C193.98 297.82 196.62 300.38 199.20 303.20C201.78 306.02 204.33 308.55 206.90 312.40C209.47 316.25 212.28 321.67 214.60 326.30C216.92 330.93 219.38 337.12 220.80 340.20C222.22 343.28 222.72 344.03 223.10 344.80" stroke="#d31029" stroke-width="1.15" stroke-dasharray="5 2.4"/>
<path d="M34.00 395.30C36.59 394.70 44.28 392.97 49.53 391.70C54.78 390.43 60.11 389.87 65.52 387.70C70.93 385.53 76.64 382.82 81.97 378.70C87.30 374.58 92.41 368.95 97.52 363.00C102.63 357.05 108.25 349.50 112.64 343.00C117.03 336.50 120.21 330.17 123.85 324.00C127.49 317.83 131.62 310.83 134.50 306.00C137.38 301.17 138.83 298.50 141.10 295.00C143.37 291.50 145.78 287.73 148.10 285.00C150.42 282.27 152.85 280.23 155.00 278.60C157.15 276.97 159.00 276.00 161.00 275.20C163.00 274.40 165.07 274.07 167.00 273.80C168.93 273.53 169.82 272.93 172.60 273.60C175.38 274.27 180.57 276.20 183.70 277.80C186.83 279.40 188.82 281.28 191.40 283.20C193.98 285.12 196.62 287.38 199.20 289.30C201.78 291.22 204.33 292.77 206.90 294.70C209.47 296.63 212.57 298.97 214.60 300.90C216.63 302.83 217.57 304.07 219.10 306.30C220.63 308.53 222.28 311.68 223.80 314.30C225.32 316.92 226.78 319.22 228.20 322.00C229.62 324.78 231.00 328.25 232.30 331.00C233.60 333.75 234.92 336.62 236.00 338.50C237.08 340.38 238.33 341.67 238.80 342.30" stroke="#d31029" stroke-width="1.10" stroke-dasharray="4 1.3 0.9 1.3"/>
<path d="M34.00 395.20C36.59 394.57 44.28 392.73 49.54 391.40C54.80 390.07 61.55 388.55 65.58 387.20C69.61 385.85 70.98 384.85 73.73 383.30C76.48 381.75 79.31 380.07 82.06 377.90C84.81 375.73 87.69 372.95 90.25 370.30C92.81 367.65 95.03 364.92 97.45 362.00C99.87 359.08 102.20 356.27 104.74 352.80C107.28 349.33 110.70 344.08 112.68 341.20C114.66 338.32 114.80 338.77 116.64 335.50C118.48 332.23 121.36 326.23 123.75 321.60C126.14 316.97 129.49 310.47 130.98 307.70C132.47 304.93 131.51 307.12 132.70 305.00C133.89 302.88 136.05 298.33 138.10 295.00C140.15 291.67 142.50 288.33 145.00 285.00C147.50 281.67 150.60 277.57 153.10 275.00C155.60 272.43 157.85 270.93 160.00 269.60C162.15 268.27 163.90 267.57 166.00 267.00C168.10 266.43 169.65 265.82 172.60 266.20C175.55 266.58 180.57 268.02 183.70 269.30C186.83 270.58 188.82 272.23 191.40 273.90C193.98 275.57 196.62 277.55 199.20 279.30C201.78 281.05 204.33 282.73 206.90 284.40C209.47 286.07 211.78 287.45 214.60 289.30C217.42 291.15 220.95 293.40 223.80 295.50C226.65 297.60 229.48 299.55 231.70 301.90C233.92 304.25 235.73 307.48 237.10 309.60C238.47 311.72 238.72 312.40 239.90 314.60C241.08 316.80 242.82 320.12 244.20 322.80C245.58 325.48 246.88 328.48 248.20 330.70C249.52 332.92 250.88 334.50 252.10 336.10C253.32 337.70 254.93 339.60 255.50 340.30" stroke="#d31029" stroke-width="1.55"/>
<path d="M34.00 395.80C39.15 395.42 57.18 394.52 64.90 393.50C72.62 392.48 75.15 391.13 80.30 389.70C85.45 388.27 91.85 386.38 95.80 384.90C99.75 383.42 101.38 382.25 104.00 380.80C106.62 379.35 109.22 377.87 111.50 376.20C113.78 374.53 115.62 372.75 117.70 370.80C119.78 368.85 121.80 366.77 124.00 364.50C126.20 362.23 128.47 359.97 130.90 357.20C133.33 354.43 136.03 351.25 138.60 347.90C141.17 344.55 143.72 340.32 146.30 337.10C148.88 333.88 151.52 330.80 154.10 328.60C156.68 326.40 159.75 324.80 161.80 323.90C163.85 323.00 164.60 323.07 166.40 323.20C168.20 323.33 171.00 324.18 172.60 324.70C174.20 325.22 174.15 325.02 176.00 326.30C177.85 327.58 181.13 329.97 183.70 332.40C186.27 334.83 188.82 337.68 191.40 340.90C193.98 344.12 197.18 349.30 199.20 351.70C201.22 354.10 202.78 354.70 203.50 355.30" stroke="#0a0a0a" stroke-width="0.95"/>
<path d="M34.00 395.70C36.59 395.37 44.29 394.50 49.51 393.70C54.73 392.90 59.95 392.42 65.33 390.90C70.71 389.38 76.21 387.67 81.81 384.60C87.41 381.53 94.26 376.27 98.92 372.50C103.58 368.73 106.80 365.42 109.78 362.00C112.76 358.58 114.27 355.50 116.80 352.00C119.33 348.50 121.94 345.33 124.97 341.00C128.00 336.67 132.04 330.75 134.96 326.00C137.88 321.25 139.94 316.17 142.50 312.50C145.06 308.83 147.92 306.18 150.35 304.00C152.78 301.82 154.67 300.43 157.10 299.40C159.53 298.37 162.32 297.93 164.90 297.80C167.48 297.67 169.98 297.72 172.60 298.60C175.22 299.48 177.47 300.80 180.60 303.10C183.73 305.40 188.13 309.57 191.40 312.40C194.67 315.23 197.25 317.15 200.20 320.10C203.15 323.05 206.60 326.70 209.10 330.10C211.60 333.50 213.05 337.02 215.20 340.50C217.35 343.98 220.87 349.25 222.00 351.00" stroke="#0a0a0a" stroke-width="1.15" stroke-dasharray="5 2.4"/>
<path d="M34.00 395.70C36.59 395.33 44.29 394.35 49.52 393.50C54.75 392.65 59.99 392.17 65.38 390.60C70.77 389.03 76.29 387.37 81.88 384.10C87.47 380.83 94.29 375.10 98.89 371.00C103.49 366.90 106.50 363.25 109.50 359.50C112.50 355.75 114.38 352.50 116.92 348.50C119.46 344.50 121.78 340.47 124.73 335.50C127.68 330.53 131.64 323.95 134.63 318.70C137.62 313.45 139.75 307.95 142.65 304.00C145.55 300.05 149.59 297.23 152.00 295.00C154.41 292.77 155.27 291.68 157.10 290.60C158.93 289.52 161.18 288.95 163.00 288.50C164.82 288.05 166.40 287.93 168.00 287.90C169.60 287.87 169.98 287.42 172.60 288.30C175.22 289.18 180.57 291.48 183.70 293.20C186.83 294.92 188.82 296.80 191.40 298.60C193.98 300.40 196.62 302.20 199.20 304.00C201.78 305.80 204.10 307.43 206.90 309.40C209.70 311.37 213.83 314.08 216.00 315.80C218.17 317.52 218.45 318.00 219.90 319.70C221.35 321.40 223.12 323.65 224.70 326.00C226.28 328.35 227.83 331.07 229.40 333.80C230.97 336.53 232.53 339.73 234.10 342.40C235.67 345.07 238.02 348.57 238.80 349.80" stroke="#0a0a0a" stroke-width="1.10" stroke-dasharray="4 1.3 0.9 1.3"/>
<path d="M34.00 395.60C36.58 395.17 44.28 393.95 49.50 393.00C54.72 392.05 59.96 391.58 65.30 389.90C70.64 388.22 76.09 386.30 81.53 382.90C86.97 379.50 94.54 372.25 97.94 369.50C101.34 366.75 100.10 368.58 101.94 366.40C103.78 364.22 106.51 360.00 108.99 356.40C111.47 352.80 114.27 349.05 116.80 344.80C119.33 340.55 121.62 335.53 124.17 330.90C126.72 326.27 129.54 321.38 132.08 317.00C134.62 312.62 137.05 308.27 139.40 304.60C141.75 300.93 144.27 297.53 146.20 295.00C148.13 292.47 149.45 291.03 151.00 289.40C152.55 287.77 153.83 286.47 155.50 285.20C157.17 283.93 159.08 282.63 161.00 281.80C162.92 280.97 165.07 280.48 167.00 280.20C168.93 279.92 169.82 279.48 172.60 280.10C175.38 280.72 180.57 282.48 183.70 283.90C186.83 285.32 188.82 287.05 191.40 288.60C193.98 290.15 196.62 291.78 199.20 293.20C201.78 294.62 204.10 295.58 206.90 297.10C209.70 298.62 213.18 300.65 216.00 302.30C218.82 303.95 221.18 304.95 223.80 307.00C226.42 309.05 229.47 312.22 231.70 314.60C233.93 316.98 235.23 318.75 237.20 321.30C239.17 323.85 241.67 327.43 243.50 329.90C245.33 332.37 246.77 334.42 248.20 336.10C249.63 337.78 250.88 338.98 252.10 340.00C253.32 341.02 254.93 341.83 255.50 342.20" stroke="#0a0a0a" stroke-width="1.55"/>
</g>
<g stroke="#505050" stroke-width="1" fill="none">
<rect x="34.0" y="229.0" width="221.6" height="167.5"/>
<path d="M49.51 396.50v-1.40M49.51 229.00v1.40M58.58 396.50v-1.40M58.58 229.00v1.40M65.02 396.50v-1.40M65.02 229.00v1.40M70.01 396.50v-1.40M70.01 229.00v1.40M74.09 396.50v-1.40M74.09 229.00v1.40M77.54 396.50v-1.40M77.54 229.00v1.40M80.53 396.50v-1.40M80.53 229.00v1.40M83.17 396.50v-1.40M83.17 229.00v1.40M85.52 396.50v-2.80M85.52 229.00v2.80M101.03 396.50v-1.40M101.03 229.00v1.40M110.11 396.50v-1.40M110.11 229.00v1.40M116.54 396.50v-1.40M116.54 229.00v1.40M121.54 396.50v-1.40M121.54 229.00v1.40M125.61 396.50v-1.40M125.61 229.00v1.40M129.06 396.50v-1.40M129.06 229.00v1.40M132.05 396.50v-1.40M132.05 229.00v1.40M134.69 396.50v-1.40M134.69 229.00v1.40M137.05 396.50v-2.80M137.05 229.00v2.80M152.55 396.50v-1.40M152.55 229.00v1.40M161.63 396.50v-1.40M161.63 229.00v1.40M168.06 396.50v-1.40M168.06 229.00v1.40M173.06 396.50v-1.40M173.06 229.00v1.40M177.14 396.50v-1.40M177.14 229.00v1.40M180.59 396.50v-1.40M180.59 229.00v1.40M183.57 396.50v-1.40M183.57 229.00v1.40M186.21 396.50v-1.40M186.21 229.00v1.40M188.57 396.50v-2.80M188.57 229.00v2.80M204.08 396.50v-1.40M204.08 229.00v1.40M213.15 396.50v-1.40M213.15 229.00v1.40M219.59 396.50v-1.40M219.59 229.00v1.40M224.58 396.50v-1.40M224.58 229.00v1.40M228.66 396.50v-1.40M228.66 229.00v1.40M232.11 396.50v-1.40M232.11 229.00v1.40M235.10 396.50v-1.40M235.10 229.00v1.40M237.73 396.50v-1.40M237.73 229.00v1.40M240.09 396.50v-2.80M240.09 229.00v2.80M255.60 396.50v-1.40M255.60 229.00v1.40M34.00 379.75h2.8M255.60 379.75h-2.8M34.00 363.00h2.8M255.60 363.00h-2.8M34.00 346.25h2.8M255.60 346.25h-2.8M34.00 329.50h2.8M255.60 329.50h-2.8M34.00 312.75h2.8M255.60 312.75h-2.8M34.00 296.00h2.8M255.60 296.00h-2.8M34.00 279.25h2.8M255.60 279.25h-2.8M34.00 262.50h2.8M255.60 262.50h-2.8M34.00 245.75h2.8M255.60 245.75h-2.8"/>
</g>
<g font-family='"Liberation Serif", serif' font-size="7.3" fill="#111" stroke="#111" stroke-width="0.15">
<text x="28.4" y="399.5" text-anchor="end">0</text>
<text x="28.4" y="382.8" text-anchor="end">0.2</text>
<text x="28.4" y="366.0" text-anchor="end">0.4</text>
<text x="28.4" y="349.2" text-anchor="end">0.6</text>
<text x="28.4" y="332.5" text-anchor="end">0.8</text>
<text x="28.4" y="315.8" text-anchor="end">1</text>
<text x="28.4" y="299.0" text-anchor="end">1.2</text>
<text x="28.4" y="282.2" text-anchor="end">1.4</text>
<text x="28.4" y="265.5" text-anchor="end">1.6</text>
<text x="28.4" y="248.8" text-anchor="end">1.8</text>
<text x="28.4" y="232.0" text-anchor="end">2</text>
<text x="33.2" y="409.3" text-anchor="end">10</text>
<text x="35.6" y="406.0" font-size="5.7">-1</text>
<text x="85.7" y="409.3" text-anchor="end">10</text>
<text x="88.0" y="406.0" font-size="5.7">0</text>
<text x="137.2" y="409.3" text-anchor="end">10</text>
<text x="139.5" y="406.0" font-size="5.7">1</text>
<text x="188.8" y="409.3" text-anchor="end">10</text>
<text x="191.1" y="406.0" font-size="5.7">2</text>
<text x="240.3" y="409.3" text-anchor="end">10</text>
<text x="242.6" y="406.0" font-size="5.7">3</text>
</g>
<text x="138.0" y="423.7" font-family='"Liberation Serif", serif' font-size="10" font-weight="bold" fill="#000" stroke="#000" stroke-width="0.2">y</text>
<text x="144.2" y="419.1" font-family='"Liberation Serif", serif' font-size="9" font-weight="bold" fill="#000" stroke="#000" stroke-width="0.2">+</text>
<text x="144.3" y="441.7" font-family='"Liberation Serif", serif' font-size="14" fill="#000" stroke="#000" stroke-width="0.3" text-anchor="middle">(c)</text>
<g transform="translate(9.4 312.8) rotate(-90)" font-family='"Liberation Serif", serif' font-weight="bold" fill="#000">
<text x="-12.4" y="0" font-size="9.0">w</text>
<text x="-4.9" y="5.6" font-size="7.8">rms</text>
<text x="-4.6" y="-3.9" font-size="8.6">+</text>
</g>
<path d="M40.8 239.3H59.6" stroke="#d31029" stroke-width="0.95" fill="none"/>
<text x="62.0" y="241.6" font-family='"Liberation Serif", serif' font-size="6.75" fill="#111" stroke="#111" stroke-width="0.12">Re=200</text>
<path d="M40.8 248.0H59.6" stroke="#d31029" stroke-width="1.15" stroke-dasharray="5 2.4" fill="none"/>
<text x="62.0" y="250.3" font-family='"Liberation Serif", serif' font-size="6.75" fill="#111" stroke="#111" stroke-width="0.12">Re=500</text>
<path d="M40.8 256.6H59.6" stroke="#d31029" stroke-width="1.10" stroke-dasharray="4 1.3 0.9 1.3" fill="none"/>
<text x="62.0" y="258.9" font-family='"Liberation Serif", serif' font-size="6.75" fill="#111" stroke="#111" stroke-width="0.12">Re=1000</text>
<path d="M40.8 265.3H59.6" stroke="#d31029" stroke-width="1.55" fill="none"/>
<text x="62.0" y="267.6" font-family='"Liberation Serif", serif' font-size="6.75" fill="#111" stroke="#111" stroke-width="0.12">Re=2000</text>
</g>
<g>
<clipPath id="cld"><rect x="298.0" y="228.0" width="222.3" height="169.0"/></clipPath>
<g clip-path="url(#cld)" fill="none" stroke-linejoin="round">
<path d="M310.00 396.30C317.57 396.27 346.53 396.25 355.40 396.10C364.27 395.95 360.62 395.87 363.20 395.40C365.78 394.93 368.13 394.53 370.90 393.30C373.67 392.07 377.03 390.80 379.80 388.00C382.57 385.20 385.38 381.00 387.50 376.50C389.62 372.00 390.85 365.58 392.50 361.00C394.15 356.42 395.30 355.30 397.40 349.00C399.50 342.70 402.78 331.35 405.10 323.20C407.42 315.05 409.63 306.12 411.30 300.10C412.97 294.08 413.70 290.80 415.10 287.10C416.50 283.40 418.17 280.22 419.70 277.90C421.23 275.58 422.88 274.18 424.30 273.20C425.72 272.22 426.78 271.87 428.20 272.00C429.62 272.13 431.13 272.50 432.80 274.00C434.47 275.50 436.38 277.67 438.20 281.00C440.02 284.33 441.58 288.25 443.70 294.00C445.82 299.75 448.85 308.32 450.90 315.50C452.95 322.68 454.47 330.45 456.00 337.10C457.53 343.75 458.78 348.73 460.10 355.40C461.42 362.07 462.62 370.25 463.90 377.10C465.18 383.95 467.15 393.27 467.80 396.50" stroke="#d31029" stroke-width="0.95"/>
<path d="M310.00 396.30C317.57 396.25 346.53 396.18 355.40 396.00C364.27 395.82 360.62 395.70 363.20 395.20C365.78 394.70 368.33 394.33 370.90 393.00C373.47 391.67 376.03 390.32 378.60 387.20C381.17 384.08 383.98 379.23 386.30 374.30C388.62 369.37 390.15 365.38 392.50 357.60C394.85 349.82 398.05 336.90 400.40 327.60C402.75 318.30 404.93 308.48 406.60 301.80C408.27 295.12 408.98 292.47 410.40 287.50C411.82 282.53 413.55 276.25 415.10 272.00C416.65 267.75 417.90 264.75 419.70 262.00C421.50 259.25 423.83 256.97 425.90 255.50C427.97 254.03 430.05 253.38 432.10 253.20C434.15 253.02 435.88 253.25 438.20 254.40C440.52 255.55 443.42 257.60 446.00 260.10C448.58 262.60 451.38 266.18 453.70 269.40C456.02 272.62 458.07 275.97 459.90 279.40C461.73 282.83 463.13 286.17 464.70 290.00C466.27 293.83 467.88 298.02 469.30 302.40C470.72 306.78 471.87 310.53 473.20 316.30C474.53 322.07 476.10 330.80 477.30 337.00C478.50 343.20 479.15 346.57 480.40 353.50C481.65 360.43 483.55 371.43 484.80 378.60C486.05 385.77 487.38 393.52 487.90 396.50" stroke="#d31029" stroke-width="1.15" stroke-dasharray="5 2.4"/>
<path d="M310.00 396.30C317.57 396.25 346.53 396.18 355.40 396.00C364.27 395.82 360.62 395.70 363.20 395.20C365.78 394.70 368.33 394.37 370.90 393.00C373.47 391.63 376.03 390.17 378.60 387.00C381.17 383.83 383.98 378.97 386.30 374.00C388.62 369.03 390.15 365.03 392.50 357.20C394.85 349.37 398.05 336.37 400.40 327.00C402.75 317.63 404.93 307.75 406.60 301.00C408.27 294.25 408.98 291.50 410.40 286.50C411.82 281.50 413.55 275.50 415.10 271.00C416.65 266.50 417.90 262.92 419.70 259.50C421.50 256.08 423.58 252.72 425.90 250.50C428.22 248.28 431.28 247.10 433.60 246.20C435.92 245.30 437.73 245.10 439.80 245.10C441.87 245.10 443.68 245.37 446.00 246.20C448.32 247.03 451.13 248.30 453.70 250.10C456.27 251.90 458.83 254.17 461.40 257.00C463.97 259.83 466.83 263.62 469.10 267.10C471.37 270.58 473.15 274.08 475.00 277.90C476.85 281.72 478.57 285.92 480.20 290.00C481.83 294.08 483.27 297.77 484.80 302.40C486.33 307.03 487.95 312.03 489.40 317.80C490.85 323.57 492.23 330.80 493.50 337.00C494.77 343.20 495.83 348.17 497.00 355.00C498.17 361.83 499.45 371.08 500.50 378.00C501.55 384.92 502.83 393.42 503.30 396.50" stroke="#d31029" stroke-width="1.10" stroke-dasharray="4 1.3 0.9 1.3"/>
<path d="M310.00 396.30C317.57 396.25 346.53 396.18 355.40 396.00C364.27 395.82 360.62 395.72 363.20 395.20C365.78 394.68 368.33 394.32 370.90 392.90C373.47 391.48 376.03 389.92 378.60 386.70C381.17 383.48 383.98 378.62 386.30 373.60C388.62 368.58 390.15 364.48 392.50 356.60C394.85 348.72 398.05 335.72 400.40 326.30C402.75 316.88 404.93 306.88 406.60 300.10C408.27 293.32 408.98 290.58 410.40 285.60C411.82 280.62 413.55 274.70 415.10 270.20C416.65 265.70 417.90 262.22 419.70 258.60C421.50 254.98 423.58 251.20 425.90 248.50C428.22 245.80 431.03 243.82 433.60 242.40C436.17 240.98 438.72 240.40 441.30 240.00C443.88 239.60 446.52 239.75 449.10 240.00C451.68 240.25 454.23 240.73 456.80 241.50C459.37 242.27 462.15 243.37 464.50 244.60C466.85 245.83 468.55 246.95 470.90 248.90C473.25 250.85 476.03 253.40 478.60 256.30C481.17 259.20 483.98 262.70 486.30 266.30C488.62 269.90 490.70 274.03 492.50 277.90C494.30 281.77 495.55 285.42 497.10 289.50C498.65 293.58 500.25 297.68 501.80 302.40C503.35 307.12 504.98 312.03 506.40 317.80C507.82 323.57 509.10 330.97 510.30 337.00C511.50 343.03 512.48 347.33 513.60 354.00C514.72 360.67 516.05 369.92 517.00 377.00C517.95 384.08 518.92 393.25 519.30 396.50" stroke="#d31029" stroke-width="1.55"/>
<path d="M310.00 396.45C321.43 396.38 365.88 396.21 378.60 396.00C391.32 395.79 383.72 395.85 386.30 395.20C388.88 394.55 391.52 393.63 394.10 392.10C396.68 390.57 399.23 388.82 401.80 386.00C404.37 383.18 406.48 381.37 409.50 375.20C412.52 369.03 417.55 355.12 419.90 349.00C422.25 342.88 421.95 341.93 423.60 338.50C425.25 335.07 427.87 330.50 429.80 328.40C431.73 326.30 433.40 325.98 435.20 325.90C437.00 325.82 438.67 326.28 440.60 327.90C442.53 329.52 444.73 332.52 446.80 335.60C448.87 338.68 451.40 343.00 453.00 346.40C454.60 349.80 454.97 351.15 456.40 356.00C457.83 360.85 459.70 368.75 461.60 375.50C463.50 382.25 466.77 393.00 467.80 396.50" stroke="#0a0a0a" stroke-width="0.95"/>
<path d="M310.00 396.40C318.87 396.35 353.05 396.23 363.20 396.10C373.35 395.97 368.33 395.98 370.90 395.60C373.47 395.22 375.70 394.82 378.60 393.80C381.50 392.78 385.38 391.63 388.30 389.50C391.22 387.37 393.70 384.25 396.10 381.00C398.50 377.75 400.50 374.75 402.70 370.00C404.90 365.25 407.20 358.17 409.30 352.50C411.40 346.83 413.60 340.83 415.30 336.00C417.00 331.17 417.85 328.33 419.50 323.50C421.15 318.67 423.23 311.03 425.20 307.00C427.17 302.97 429.25 300.97 431.30 299.30C433.35 297.63 435.18 297.13 437.50 297.00C439.82 296.87 442.72 297.35 445.20 298.50C447.68 299.65 449.92 301.45 452.40 303.90C454.88 306.35 457.78 309.85 460.10 313.20C462.42 316.55 464.25 319.63 466.30 324.00C468.35 328.37 470.48 334.23 472.40 339.40C474.32 344.57 476.00 348.98 477.80 355.00C479.60 361.02 481.52 368.58 483.20 375.50C484.88 382.42 487.12 393.00 487.90 396.50" stroke="#0a0a0a" stroke-width="1.15" stroke-dasharray="5 2.4"/>
<path d="M310.00 396.40C318.87 396.35 353.05 396.25 363.20 396.10C373.35 395.95 368.33 395.93 370.90 395.50C373.47 395.07 375.70 394.58 378.60 393.50C381.50 392.42 385.38 391.25 388.30 389.00C391.22 386.75 393.75 383.17 396.10 380.00C398.45 376.83 400.25 374.67 402.40 370.00C404.55 365.33 406.90 357.83 409.00 352.00C411.10 346.17 413.33 340.42 415.00 335.00C416.67 329.58 417.30 325.07 419.00 319.50C420.70 313.93 423.15 306.25 425.20 301.60C427.25 296.95 429.25 294.05 431.30 291.60C433.35 289.15 435.32 287.78 437.50 286.90C439.68 286.02 441.97 286.20 444.40 286.30C446.83 286.40 449.52 286.72 452.10 287.50C454.68 288.28 457.53 289.55 459.90 291.00C462.27 292.45 463.95 294.05 466.30 296.20C468.65 298.35 471.88 301.07 474.00 303.90C476.12 306.73 476.95 309.33 479.00 313.20C481.05 317.07 484.30 322.47 486.30 327.10C488.30 331.73 489.48 336.02 491.00 341.00C492.52 345.98 493.87 350.47 495.40 357.00C496.93 363.53 498.88 373.62 500.20 380.20C501.52 386.78 502.78 393.78 503.30 396.50" stroke="#0a0a0a" stroke-width="1.10" stroke-dasharray="4 1.3 0.9 1.3"/>
<path d="M310.00 396.40C318.87 396.33 353.05 396.20 363.20 396.00C373.35 395.80 368.33 395.72 370.90 395.20C373.47 394.68 376.03 394.18 378.60 392.90C381.17 391.62 383.72 389.73 386.30 387.50C388.88 385.27 391.87 382.42 394.10 379.50C396.33 376.58 397.80 374.42 399.70 370.00C401.60 365.58 403.48 358.83 405.50 353.00C407.52 347.17 409.55 341.77 411.80 335.00C414.05 328.23 416.77 319.00 419.00 312.40C421.23 305.80 423.15 300.03 425.20 295.40C427.25 290.77 429.50 287.17 431.30 284.60C433.10 282.03 434.33 281.12 436.00 280.00C437.67 278.88 439.12 278.52 441.30 277.90C443.48 277.28 446.52 276.45 449.10 276.30C451.68 276.15 454.23 276.48 456.80 277.00C459.37 277.52 462.15 278.57 464.50 279.40C466.85 280.23 468.55 280.83 470.90 282.00C473.25 283.17 476.28 284.83 478.60 286.40C480.92 287.97 482.73 289.42 484.80 291.40C486.87 293.38 488.95 295.45 491.00 298.30C493.05 301.15 495.05 304.22 497.10 308.50C499.15 312.78 501.48 318.92 503.30 324.00C505.12 329.08 506.52 333.92 508.00 339.00C509.48 344.08 510.80 348.15 512.20 354.50C513.60 360.85 515.22 370.10 516.40 377.10C517.58 384.10 518.82 393.27 519.30 396.50" stroke="#0a0a0a" stroke-width="1.55"/>
</g>
<g stroke="#505050" stroke-width="1" fill="none">
<rect x="298.0" y="229.0" width="221.5" height="167.5"/>
<path d="M313.50 396.50v-1.40M313.50 229.00v1.40M322.57 396.50v-1.40M322.57 229.00v1.40M329.01 396.50v-1.40M329.01 229.00v1.40M334.00 396.50v-1.40M334.00 229.00v1.40M338.07 396.50v-1.40M338.07 229.00v1.40M341.52 396.50v-1.40M341.52 229.00v1.40M344.51 396.50v-1.40M344.51 229.00v1.40M347.14 396.50v-1.40M347.14 229.00v1.40M349.50 396.50v-2.80M349.50 229.00v2.80M365.00 396.50v-1.40M365.00 229.00v1.40M374.07 396.50v-1.40M374.07 229.00v1.40M380.50 396.50v-1.40M380.50 229.00v1.40M385.50 396.50v-1.40M385.50 229.00v1.40M389.57 396.50v-1.40M389.57 229.00v1.40M393.02 396.50v-1.40M393.02 229.00v1.40M396.01 396.50v-1.40M396.01 229.00v1.40M398.64 396.50v-1.40M398.64 229.00v1.40M401.00 396.50v-2.80M401.00 229.00v2.80M416.50 396.50v-1.40M416.50 229.00v1.40M425.57 396.50v-1.40M425.57 229.00v1.40M432.00 396.50v-1.40M432.00 229.00v1.40M437.00 396.50v-1.40M437.00 229.00v1.40M441.07 396.50v-1.40M441.07 229.00v1.40M444.52 396.50v-1.40M444.52 229.00v1.40M447.51 396.50v-1.40M447.51 229.00v1.40M450.14 396.50v-1.40M450.14 229.00v1.40M452.50 396.50v-2.80M452.50 229.00v2.80M468.00 396.50v-1.40M468.00 229.00v1.40M477.07 396.50v-1.40M477.07 229.00v1.40M483.50 396.50v-1.40M483.50 229.00v1.40M488.49 396.50v-1.40M488.49 229.00v1.40M492.57 396.50v-1.40M492.57 229.00v1.40M496.02 396.50v-1.40M496.02 229.00v1.40M499.01 396.50v-1.40M499.01 229.00v1.40M501.64 396.50v-1.40M501.64 229.00v1.40M504.00 396.50v-2.80M504.00 229.00v2.80M519.50 396.50v-1.40M519.50 229.00v1.40M298.00 379.75h2.8M519.50 379.75h-2.8M298.00 363.00h2.8M519.50 363.00h-2.8M298.00 346.25h2.8M519.50 346.25h-2.8M298.00 329.50h2.8M519.50 329.50h-2.8M298.00 312.75h2.8M519.50 312.75h-2.8M298.00 296.00h2.8M519.50 296.00h-2.8M298.00 279.25h2.8M519.50 279.25h-2.8M298.00 262.50h2.8M519.50 262.50h-2.8M298.00 245.75h2.8M519.50 245.75h-2.8"/>
</g>
<g font-family='"Liberation Sans", sans-serif' font-size="7.3" fill="#111" stroke="#111" stroke-width="0.15">
<text x="293.6" y="399.3" text-anchor="end">0</text>
<text x="293.6" y="382.6" text-anchor="end">0.1</text>
<text x="293.6" y="365.8" text-anchor="end">0.2</text>
<text x="293.6" y="349.1" text-anchor="end">0.3</text>
<text x="293.6" y="332.3" text-anchor="end">0.4</text>
<text x="293.6" y="315.6" text-anchor="end">0.5</text>
<text x="293.6" y="298.8" text-anchor="end">0.6</text>
<text x="293.6" y="282.1" text-anchor="end">0.7</text>
<text x="293.6" y="265.3" text-anchor="end">0.8</text>
<text x="293.6" y="248.6" text-anchor="end">0.9</text>
<text x="293.6" y="231.8" text-anchor="end">1</text>
<text x="298.2" y="409.3" text-anchor="end">10</text>
<text x="300.1" y="405.6" font-size="5.7">-1</text>
<text x="350.5" y="409.3" text-anchor="end">10</text>
<text x="352.3" y="405.6" font-size="5.7">0</text>
<text x="402.0" y="409.3" text-anchor="end">10</text>
<text x="403.8" y="405.6" font-size="5.7">1</text>
<text x="453.5" y="409.3" text-anchor="end">10</text>
<text x="455.3" y="405.6" font-size="5.7">2</text>
<text x="505.0" y="409.3" text-anchor="end">10</text>
<text x="506.8" y="405.6" font-size="5.7">3</text>
</g>
<text x="401.8" y="423.7" font-family='"Liberation Sans", sans-serif' font-size="9.8" font-weight="bold" fill="#000" stroke="#000" stroke-width="0.25">y</text>
<text x="408.0" y="419.6" font-family='"Liberation Sans", sans-serif' font-size="8" font-weight="bold" fill="#000" stroke="#000" stroke-width="0.25">+</text>
<text x="408.2" y="441.7" font-family='"Liberation Serif", serif' font-size="14" fill="#000" stroke="#000" stroke-width="0.3" text-anchor="middle">(d)</text>
<g transform="translate(277.6 312.8) rotate(-90)" font-family='"Liberation Sans", sans-serif' font-weight="bold" fill="#000">
<text x="-12" y="0" font-size="8.8">-uv</text>
<text x="6.0" y="-4.6" font-size="7.8">+</text>
</g>
<path d="M304.8 239.3H323.6" stroke="#d31029" stroke-width="0.95" fill="none"/>
<text x="326.0" y="241.6" font-family='"Liberation Sans", sans-serif' font-size="6.75" fill="#111" stroke="#111" stroke-width="0.12">Re=200</text>
<path d="M304.8 248.0H323.6" stroke="#d31029" stroke-width="1.15" stroke-dasharray="5 2.4" fill="none"/>
<text x="326.0" y="250.3" font-family='"Liberation Sans", sans-serif' font-size="6.75" fill="#111" stroke="#111" stroke-width="0.12">Re=500</text>
<path d="M304.8 256.6H323.6" stroke="#d31029" stroke-width="1.10" stroke-dasharray="4 1.3 0.9 1.3" fill="none"/>
<text x="326.0" y="258.9" font-family='"Liberation Sans", sans-serif' font-size="6.75" fill="#111" stroke="#111" stroke-width="0.12">Re=1000</text>
<path d="M304.8 265.3H323.6" stroke="#d31029" stroke-width="1.55" fill="none"/>
<text x="326.0" y="267.6" font-family='"Liberation Sans", sans-serif' font-size="6.75" fill="#111" stroke="#111" stroke-width="0.12">Re=2000</text>
</g>
</svg>
</body></html>
